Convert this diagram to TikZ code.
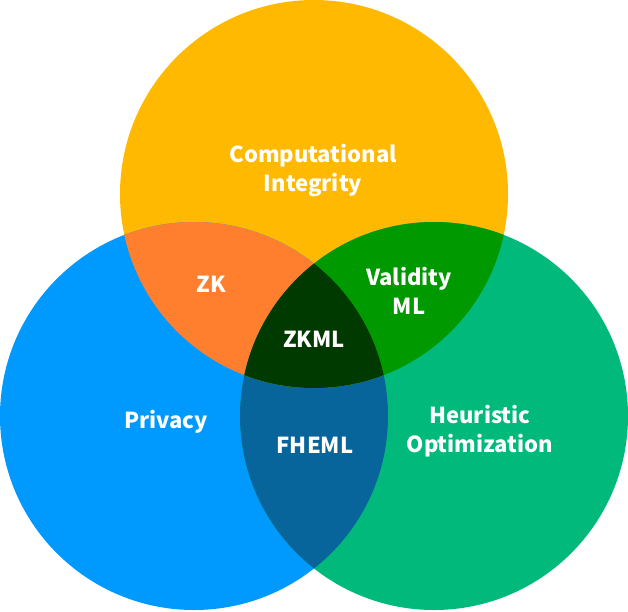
\documentclass[tikz,border=0pt]{standalone}
\usepackage{fontspec}
\setmainfont{Noto Sans CJK JP}
\definecolor{ciYellow}{HTML}{FFB900}
\definecolor{privBlue}{HTML}{009AFF}
\definecolor{heurGreen}{HTML}{00B97A}
\definecolor{zkOrange}{HTML}{FF7F2E}
\definecolor{validGreen}{HTML}{009900}
\definecolor{fheBlue}{HTML}{07659C}
\definecolor{zkmlGreen}{HTML}{003A00}

\begin{document}
\begin{tikzpicture}[x=1pt,y=-1pt,
    lbl/.style={text=white,align=center,font=\bfseries\fontsize{22}{29}\selectfont}]
    \useasboundingbox (0,0) rectangle (628,611);
    \coordinate (CI) at (314,194);
    \coordinate (PR) at (194,416);
    \coordinate (HO) at (434,416);
    \fill [ciYellow] (CI) circle (194);
    \fill [privBlue] (PR) circle (194);
    \fill [heurGreen] (HO) circle (194);
    \begin{scope}
        \clip (PR) circle (194);
        \fill [fheBlue] (HO) circle (194);
    \end{scope}
    \begin{scope}
        \clip (CI) circle (194);
        \fill [zkOrange] (PR) circle (194);
        \fill [validGreen] (HO) circle (194);
        \clip (PR) circle (194);
        \fill [zkmlGreen] (HO) circle (194);
    \end{scope}
    \node [lbl] (ci) at (313,170) {Computational\\Integrity};
    \node [lbl] (zk) at (211,284) {ZK};
    \node [lbl] (vml) at (409,291) {Validity\\ML};
    \node [lbl] (zkml) at (314,339) {ZKML};
    \node [lbl] (priv) at (166,422) {Privacy};
    \node [lbl] (fheml) at (315,445) {FHEML};
    \node [lbl] (heur) at (480,431) {Heuristic\\Optimization};
\end{tikzpicture}
\end{document}
